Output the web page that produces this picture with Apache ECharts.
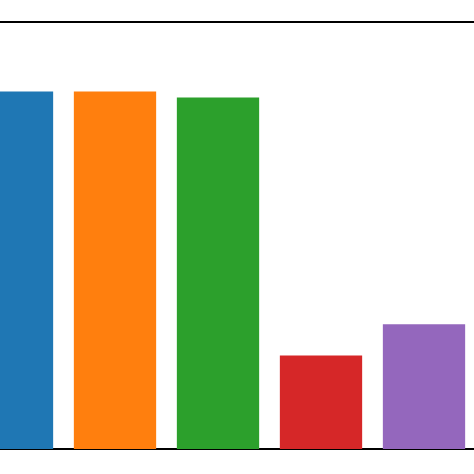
<!DOCTYPE html>
<html>
<head>
<meta charset="utf-8">
<script src="https://cdn.jsdelivr.net/npm/echarts@6/dist/echarts.min.js"></script>
<style>html,body{margin:0;padding:0;background:#fff;}#c{width:474px;height:474px;}</style>
</head>
<body>
<div id="c"></div>
<script>
const categories = ['A', 'B', 'C', 'D', 'E'];
const values = [83.6, 83.6, 82.2, 21.9, 29.2];
const colors = ['#1f77b4', '#ff7f0e', '#2ca02c', '#d62728', '#9467bd'];

const chart = echarts.init(document.getElementById('c'), null, {renderer: 'canvas'});
const xRange = {min: -0.1165, max: 4.4854};
chart.setOption({
  animation: false,
  grid: {left: 0, right: 0, top: 21.5, bottom: 25},
  xAxis: [{
    type: 'value', min: xRange.min, max: xRange.max, position: 'bottom',
    axisLine: {show: true, onZero: false, lineStyle: {color: '#000', width: 2}},
    axisTick: {show: false}, axisLabel: {show: false}, splitLine: {show: false}
  }, {
    type: 'value', min: xRange.min, max: xRange.max, position: 'top',
    axisLine: {show: true, onZero: false, lineStyle: {color: '#000', width: 2}},
    axisTick: {show: false}, axisLabel: {show: false}, splitLine: {show: false}
  }],
  yAxis: {
    type: 'value', min: 0, max: 100,
    show: false, splitLine: {show: false}
  },
  series: [{
    type: 'bar',
    name: 'values',
    xAxisIndex: 0,
    barWidth: 82.3,
    z: 1,
    data: values.map((v, i) => ({value: [i, v], name: categories[i], itemStyle: {color: colors[i]}}))
  }]
});
</script>
</body>
</html>
